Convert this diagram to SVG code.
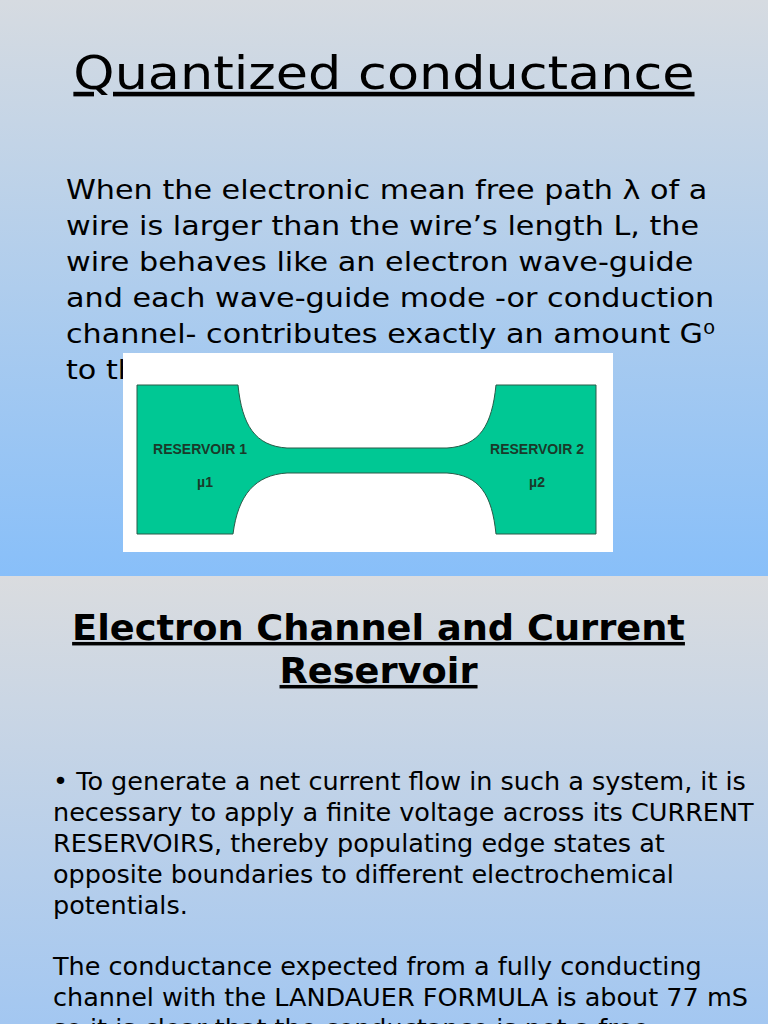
<svg xmlns="http://www.w3.org/2000/svg" width="768" height="1024" viewBox="0 0 768 1024">
<defs>
<linearGradient id="g1" x1="0" y1="0" x2="0" y2="1"><stop offset="0" stop-color="#d6dbe1"/><stop offset="1" stop-color="#88bff9"/></linearGradient>
<linearGradient id="g2" x1="0" y1="0" x2="0" y2="1"><stop offset="0" stop-color="#dadcdf"/><stop offset="1" stop-color="#a3c7f1"/></linearGradient>
<style>
text{font-family:"DejaVu Sans",sans-serif;fill:#000}
.t{font-size:46px;text-anchor:middle;text-decoration:underline}
.t2{font-size:35px;font-weight:bold;text-anchor:middle;text-decoration:underline}
.b{font-size:27px}
.c{font-size:25.5px}
.r{font-family:"Liberation Sans",Arial,sans-serif;font-size:14px;font-weight:bold;fill:#1a3a2a;text-anchor:middle}
</style>
</defs>
<rect x="0" y="0" width="768" height="576" fill="url(#g1)"/>
<rect x="0" y="576" width="768" height="448" fill="url(#g2)"/>
<text class="t" transform="scale(1.14,1)" x="336.8" y="89">Quantized conductance</text>
<g class="b" transform="scale(1.12,1)">
<text x="58.9" y="199"> When the electronic mean free path λ of a</text>
<text x="58.9" y="235">wire is larger than the wire’s length L, the</text>
<text x="58.9" y="271">wire behaves like an electron wave-guide</text>
<text x="58.9" y="307">and each wave-guide mode -or conduction</text>
<text x="58.9" y="343">channel- contributes exactly an amount G⁰</text>
<text x="58.9" y="379">to the conductance.</text>
</g>
<g id="figure">
<rect x="123" y="353" width="490" height="199" fill="#ffffff"/>
<path d="M137,385 H238 C242,425 255,446 287,448 H447 C480,446 492,425 496,385 H596 V534 H496 C492,495 480,475 447,473 H287 C255,475 238,495 233,534 H137 Z" fill="#00c894" stroke="#2a5a48" stroke-width="1"/>
<text class="r" x="200" y="454">RESERVOIR 1</text>
<text class="r" x="205" y="487">µ1</text>
<text class="r" x="537" y="454">RESERVOIR 2</text>
<text class="r" x="537" y="487">µ2</text>
</g>
<g transform="scale(1.05,1)">
<text class="t2" x="360.5" y="640">Electron Channel and Current</text>
<text class="t2" x="360.5" y="683">Reservoir</text>
</g>
<g class="c">
<text x="53" y="790">• To generate a net current flow in such a system, it is</text>
<text x="53" y="821">necessary to apply a finite voltage across its CURRENT</text>
<text x="53" y="852">RESERVOIRS, thereby populating edge states at</text>
<text x="53" y="883">opposite boundaries to different electrochemical</text>
<text x="53" y="914">potentials.</text>
<text x="53" y="975">The conductance expected from a fully conducting</text>
<text x="53" y="1006">channel with the LANDAUER FORMULA is about 77 mS</text>
<text x="53" y="1037">so it is clear that the conductance is not a free</text>
</g>
</svg>
